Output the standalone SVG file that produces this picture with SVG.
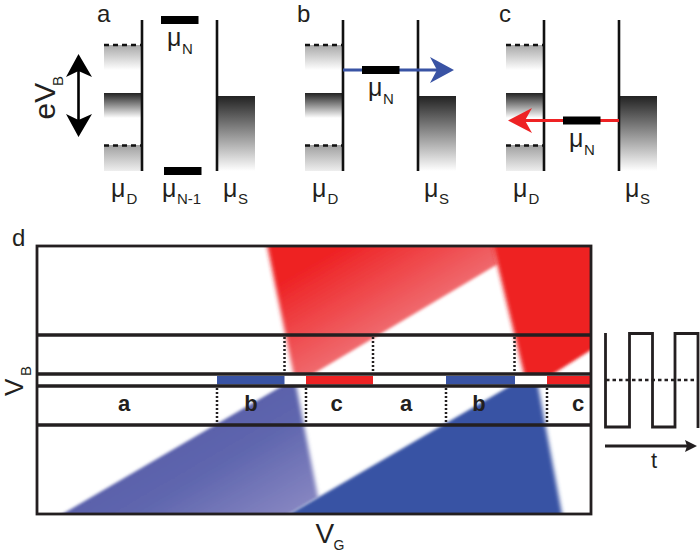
<svg xmlns="http://www.w3.org/2000/svg" xmlns:xlink="http://www.w3.org/1999/xlink" width="700" height="553" viewBox="0 0 700 553">
<style>
text{font-family:"Liberation Sans",Arial,sans-serif;fill:#231f20}
.pl{font-size:24px}
.mu{font-size:25px}
.sub{font-size:15px}
.st{font-size:22px;font-weight:bold;text-anchor:middle}
.w{stroke:#111;stroke-width:2.6;fill:none}
.d{stroke:#111;stroke-width:2.3;stroke-dasharray:5 4;fill:none}
.bar{fill:#000}
.h{stroke:#231f20;stroke-width:3.6;fill:none}
.dot{stroke:#231f20;stroke-width:2.5;stroke-dasharray:2 2;fill:none}
.frame{stroke:#231f20;stroke-width:2.8;fill:none}
.pulse{stroke:#231f20;stroke-width:2.8;fill:none;stroke-linejoin:miter}
</style>
<defs>
<linearGradient id="gl" x1="0" y1="0" x2="0" y2="1"><stop offset="0" stop-color="#a8a8a8"/><stop offset="1" stop-color="#fff"/></linearGradient>
<linearGradient id="gl2" x1="0" y1="0" x2="0" y2="1"><stop offset="0" stop-color="#a0a0a0"/><stop offset="1" stop-color="#eee"/></linearGradient>
<linearGradient id="gd" x1="0" y1="0" x2="0" y2="1"><stop offset="0" stop-color="#222"/><stop offset="1" stop-color="#fff"/></linearGradient>
<linearGradient id="gr" gradientUnits="userSpaceOnUse" x1="340" y1="220" x2="400" y2="323"><stop offset="0" stop-color="#ee2224"/><stop offset="0.2" stop-color="#ee2224"/><stop offset="1" stop-color="#f06a6e"/></linearGradient>
<linearGradient id="gb" gradientUnits="userSpaceOnUse" x1="172" y1="450" x2="232" y2="553"><stop offset="0" stop-color="#5a61ab"/><stop offset="0.3" stop-color="#5f66ae"/><stop offset="1" stop-color="#8887c2"/></linearGradient>
<filter id="soft" x="-5%" y="-5%" width="110%" height="110%"><feGaussianBlur stdDeviation="2.2 1"/></filter>
<clipPath id="cr"><rect x="38" y="247" width="552" height="127"/></clipPath>
<clipPath id="cb"><rect x="38" y="386" width="552" height="127"/></clipPath>
<g id="leads">
<rect x="104" y="45" width="38" height="25" fill="url(#gl)"/>
<rect x="104" y="93" width="38" height="25" fill="url(#gd)"/>
<rect x="104" y="145" width="38" height="26" fill="url(#gl2)"/>
<rect x="218" y="96" width="37" height="75" fill="url(#gd)"/>
<path class="d" d="M104 45H142M104 145.500H142"/>
<path class="w" d="M142 20V171M217 20V171"/>
</g>
</defs>
<rect width="700" height="553" fill="#fff"/>

<g id="plot">
<g clip-path="url(#cr)">
<polygon filter="url(#soft)" fill="url(#gr)" points="264,230 493,230 498,264 313,374 296,386"/>
<polygon filter="url(#soft)" fill="#ee2224" points="489,230 610,230 610,338 553,374 535,385 524,374"/>
</g>
<g clip-path="url(#cb)">
<polygon filter="url(#soft)" fill="url(#gb)" points="35,530 282,386 272,375 294,375 318,497 262,530"/>
<polygon filter="url(#soft)" fill="#3953a4" points="262,530 510,386 520,375 536,375 565,530"/>
</g>
<rect x="217" y="376" width="67.500" height="8.500" fill="#3953a4"/>
<rect x="306" y="376" width="67" height="8.500" fill="#ee2224"/>
<rect x="446" y="376" width="69" height="8.500" fill="#3953a4"/>
<rect x="547" y="376" width="44" height="8.500" fill="#ee2224"/>
<rect class="frame" x="37" y="246" width="554" height="268"/>
<path class="h" d="M37 335H591M37 374H591M37 386H591M37 425H591"/>
<path class="dot" d="M284.500 337V373M373 337V373M514.500 337V373M217 388V424M306 388V424M446 388V424M547 388V424"/>
</g>

<g id="panel-a">
<use xlink:href="#leads" href="#leads"/>
<rect class="bar" x="161" y="16" width="37.500" height="8"/>
<rect class="bar" x="164" y="167" width="37.500" height="8"/>
<text class="pl" x="97" y="21.500">a</text>
<text class="mu" x="167" y="46">μ</text><text class="sub" x="182" y="54">N</text>
<text class="mu" x="111" y="197">μ</text><text class="sub" x="126.500" y="204">D</text>
<text class="mu" x="162" y="197">μ</text><text class="sub" x="177" y="204">N-1</text>
<text class="mu" x="223" y="197">μ</text><text class="sub" x="238" y="204">S</text>
</g>

<g id="panel-b">
<use xlink:href="#leads" href="#leads" x="201"/>
<text class="pl" x="297" y="21.500">b</text>
<text class="mu" x="368" y="96">μ</text><text class="sub" x="383" y="104">N</text>
<text class="mu" x="312" y="197">μ</text><text class="sub" x="327.500" y="204">D</text>
<text class="mu" x="424" y="197">μ</text><text class="sub" x="439" y="204">S</text>
</g>

<g id="panel-c">
<use xlink:href="#leads" href="#leads" x="402"/>
<text class="pl" x="499" y="21.500">c</text>
<text class="mu" x="569" y="147">μ</text><text class="sub" x="584" y="155">N</text>
<text class="mu" x="513" y="197">μ</text><text class="sub" x="528.500" y="204">D</text>
<text class="mu" x="625" y="197">μ</text><text class="sub" x="640" y="204">S</text>
</g>

<g id="connectors">
<path d="M78.500 62V130" stroke="#000" stroke-width="2.600" fill="none"/>
<polygon fill="#000" points="78.500,54 92,77 78.500,71 66,77"/>
<polygon fill="#000" points="78.500,137 92,114 78.500,120 66,114"/>
<path d="M343 70H440" stroke="#3953a4" stroke-width="2.800" fill="none"/>
<polygon fill="#3953a4" points="454,70 430,57 437,70 430,83"/>
<path d="M619 120.500H520" stroke="#ee2224" stroke-width="2.800" fill="none"/>
<polygon fill="#ee2224" points="508,120.500 532,108 525,120.500 532,133"/>
<path d="M605 446H690" stroke="#231f20" stroke-width="2.800" fill="none"/>
<polygon fill="#231f20" points="697,446 685,440 687,446 685,452"/>
</g>

<g id="bar-b"><rect class="bar" x="362" y="66" width="37.500" height="8"/></g>
<g id="bar-c"><rect class="bar" x="563" y="116.500" width="37.500" height="8"/></g>

<g id="label-d"><text class="pl" x="12" y="246">d</text></g>
<g id="label-ev">
<text transform="translate(55 119.500) rotate(-90)" font-size="30">eV</text>
<text transform="translate(63 86) rotate(-90)" class="sub">B</text>
</g>
<g id="label-vb">
<text transform="translate(23 396) rotate(-90)" font-size="26">V</text>
<text transform="translate(31 376) rotate(-90)" class="sub">B</text>
</g>
<g id="label-vg">
<text x="315.500" y="543" font-size="28">V</text>
<text x="333.500" y="550" font-size="14">G</text>
</g>
<g id="states">
<text class="st" x="124" y="411">a</text>
<text class="st" x="251" y="411">b</text>
<text class="st" x="336.500" y="411">c</text>
<text class="st" x="406" y="411">a</text>
<text class="st" x="479" y="411">b</text>
<text class="st" x="578" y="411">c</text>
</g>
<g id="pulse">
<path class="pulse" d="M605.500 333V427H629.500V333.500H652.500V427H675V333.500H698V428"/>
<path d="M606 380H698" stroke="#231f20" stroke-width="2.500" stroke-dasharray="3.500 3" fill="none"/>
<text x="654" y="468" font-size="22" text-anchor="middle">t</text>
</g>
</svg>
